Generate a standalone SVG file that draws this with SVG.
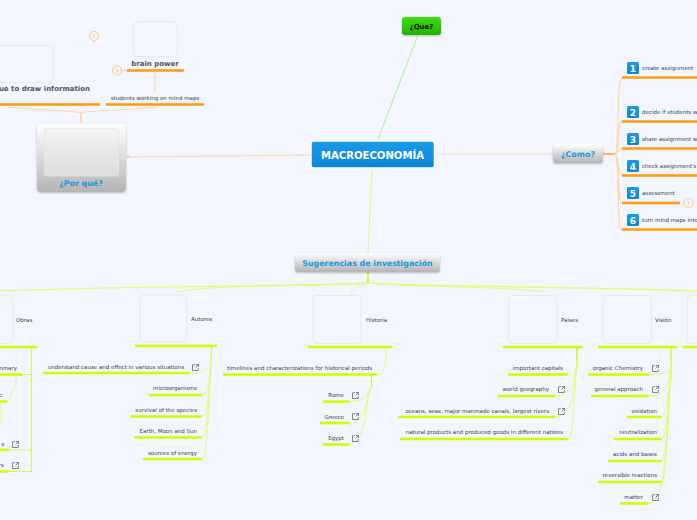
<svg xmlns="http://www.w3.org/2000/svg" width="697" height="520" viewBox="0 0 697 520">
<style>
text{font-family:"DejaVu Sans",sans-serif;fill:#3f3f46}
.s{font-size:5.5px}
.e{text-anchor:end}
.c{text-anchor:middle}
.b{font-weight:bold}
.t{fill:#2196dd;font-weight:bold}
.img{fill:#f5f7fe;stroke:#e6e8f2;stroke-width:1}
.og{stroke:#ff9b0a;stroke-width:2.6;fill:none}
.gb{stroke:#ccff00;stroke-width:2.6;fill:none}
.ol{stroke:#fdd9a8;stroke-width:1.2;fill:none}
.gl{stroke:#e2fb78;stroke-width:1;fill:none}
.gs{stroke:#ccf516;stroke-width:1;fill:none}
.num{fill:url(#blue)}
.nt{font-size:9px;font-weight:bold;fill:#fff;text-anchor:middle}
.cir{fill:#f5f7fe;stroke:#fdca8c;stroke-width:1.200}
.ct{font-size:5px;fill:#fdb765;text-anchor:middle}
.ic{stroke:#55555d;stroke-width:.7;fill:none}
</style>
<defs>
<linearGradient id="blue" x1="0" y1="0" x2="0" y2="1"><stop offset="0" stop-color="#1b9ae6"/><stop offset="1" stop-color="#0f86d8"/></linearGradient>
<linearGradient id="green" x1="0" y1="0" x2="0" y2="1"><stop offset="0" stop-color="#3fe00c"/><stop offset="1" stop-color="#20b000"/></linearGradient>
<linearGradient id="grey" x1="0" y1="0" x2="0" y2="1"><stop offset="0" stop-color="#ffffff"/><stop offset="1" stop-color="#b4b4b4"/></linearGradient>
<linearGradient id="inner" x1="0" y1="0" x2="0" y2="1"><stop offset="0" stop-color="#f4f4f4"/><stop offset="1" stop-color="#dcdcdc"/></linearGradient>
<filter id="sh" x="-20%" y="-20%" width="140%" height="150%"><feDropShadow dx="0" dy="1" stdDeviation="1.2" flood-color="#000" flood-opacity=".25"/></filter>
<symbol id="lnk" viewBox="0 0 7 7" overflow="visible"><path class="ic" d="M3 .8H.5V6.500H6.200V4M3.800 .5H6.500V3M6.500 .5L3.500 3.500"/></symbol>
</defs>
<rect width="697" height="520" fill="#f3f6fe"/>
<g id="connectors">
<path d="M311 155L127 157" class="ol"/>
<path d="M127 156.500H129" stroke="#ff9b4a" stroke-width="1"/>
<path d="M437 154L553 154" class="ol"/>
<path d="M378 139L418 35" stroke="#a8f28c" stroke-width="1" fill="none"/>
<path d="M372 170L368 253" stroke="#dcf880" stroke-width="1.100" fill="none"/>
<path d="M603 154H615" stroke="#ffb04a" stroke-width="1.800"/>
<path d="M615 154C620 150 616 78 622 78M615 154C620 152 617 121 622 121M615 154C619 153 618 148 622 148M615 154C619 155 618 175 622 175M615 154C620 156 617 203 622 203M615 154C620 158 616 230 622 230" class="ol"/>
<path d="M8 107C30 110 70 110 81 113C92 110 135 110 155 107" stroke="#fdd9a8" stroke-width="1" fill="none"/>
<path d="M81 113V123" stroke="#ffb04a" stroke-width=".8"/>
<path d="M155 72V92" class="ol"/>
<path d="M122 70.500H127" class="ol"/>
<path d="M94 41V43" class="ol"/>
<path d="M368 272V283" stroke="#ccf516" stroke-width="1.600"/>
<path d="M368 283C300 287 150 285 0 291" stroke="#e2fb78" stroke-width="1.400" fill="none"/>
<path d="M368 283C300 287 220 284 176 292" class="gl"/>
<path d="M368 283C360 285 352 288 350 295" class="gl"/>
<path d="M368 283C430 288 500 286 545 292" class="gl"/>
<path d="M368 283C430 287 550 286 697 291" stroke="#e2fb78" stroke-width="1.400" fill="none"/>
<path d="M31.500 348V472M22 374.500H31.500M9 450H31.500M9 471.500H31.500" stroke="#d8f84a" stroke-width="1" fill="none"/>
<path d="M7 401C13 401 10 388 16 388V374" class="gl"/>
<path d="M1 403V423" class="gl"/>
<path d="M211.500 347V352" class="gs"/>
<path d="M211.500 350C211 366 209 373 189 373M211.500 350C210 380 208 395 202 395M211.500 350C210 390 207 416 202 416.500M211.500 350C209 400 207 437 202 437.500M211.500 350C209 410 207 459 202 459" class="gl"/>
<path d="M386 348C386 362 386 374 377 374.500" class="gl"/>
<path d="M371.500 375V388" class="gs"/>
<path d="M371 388C367 392 368 401.500 349 401.500M371 388C366 395 368 423 349 423M371 388C365 400 367 444.500 349 444.500" class="gl"/>
<path d="M577 348V368" stroke="#ccf516" stroke-width="1.500"/>
<path d="M577 360C576 370 575 374.500 568 374.500M577 360C575 380 573 396 555 396M577 360C575 390 573 417 555 417M577 360C574 400 573 439 568 439" class="gl"/>
<path d="M671 348V380" stroke="#ccf516" stroke-width="1.200"/>
<path d="M671 365C670 372 668 374.500 649 374.500M671 365C669 380 668 396 649 396M671 365C669 390 666 417 662 417M671 365C669 400 666 439 662 439M671 365C668 410 666 461 662 461M671 365C668 420 666 482 662 482M671 365C668 430 666 503.500 649 503.500" class="gl"/>
</g>
<g id="center"><rect x="311" y="141" width="123.500" height="27" rx="2.500" fill="url(#blue)" stroke="#fff" stroke-width="1.500"/><text x="372.500" y="159" class="c b" font-size="10.100" style="fill:#fff">MACROECONOMÍA</text></g>
<g id="que"><rect x="402" y="17" width="39" height="18" rx="3" fill="url(#green)" filter="url(#sh)"/><text x="421.500" y="29" class="c b" font-size="7" style="fill:#111">¿Que?</text></g>
<g id="sugerencias"><rect x="295" y="253" width="145" height="19" rx="3" fill="url(#grey)" filter="url(#sh)"/><text x="367.500" y="265.500" class="c t" font-size="7.900">Sugerencias de investigación</text></g>
<g id="como"><rect x="553" y="144" width="50" height="19" rx="3" fill="url(#grey)" filter="url(#sh)"/><text x="578" y="156.500" class="c t" font-size="7.900">¿Como?</text></g>
<g id="porque"><rect x="37" y="124" width="89" height="68" rx="4" fill="url(#grey)" filter="url(#sh)"/><rect x="44.500" y="128.500" width="74" height="47.500" rx="2" fill="url(#inner)" stroke="#e6e6e6" stroke-width=".8"/><text x="81" y="186" class="c t" font-size="7.900">¿Por qué?</text></g>
<g id="draw"><rect x="-20" y="45.500" width="73" height="37" rx="4" class="img"/><text x="90" y="91" class="e b" font-size="7" style="fill:#555">ue to draw information</text><path d="M0 104.500H100" class="og"/></g>
<g id="brain"><rect x="133.500" y="21.500" width="44" height="35" rx="4" class="img"/><text x="155" y="66" class="c b" font-size="7" style="fill:#555">brain power</text><path d="M127 70.500H184" class="og"/><circle cx="117" cy="70.500" r="4.500" class="cir"/><text x="117" y="72.500" class="ct">3</text></g>
<g id="note"><circle cx="94" cy="36" r="4.500" class="cir"/><text x="94" y="38" class="ct">5</text></g>
<g id="students"><text x="155" y="100" class="c s">students working on mind maps</text><path d="M106 104.500H204" class="og"/></g>
<g id="c1"><rect x="627" y="62" width="12" height="12" rx="1.500" class="num"/><text x="633" y="71.500" class="nt">1</text><text x="642" y="70" class="s">create assignment</text><path d="M622 77.500H697" class="og"/></g>
<g id="c2"><rect x="627" y="106" width="12" height="12" rx="1.500" class="num"/><text x="633" y="115.500" class="nt">2</text><text x="642" y="114" class="s">decide if students w</text><path d="M622 121.500H697" class="og"/></g>
<g id="c3"><rect x="627" y="133" width="12" height="12" rx="1.500" class="num"/><text x="633" y="142.500" class="nt">3</text><text x="642" y="141" class="s">share assignment w</text><path d="M622 148.500H697" class="og"/></g>
<g id="c4"><rect x="627" y="160" width="12" height="12" rx="1.500" class="num"/><text x="633" y="169.500" class="nt">4</text><text x="642" y="168" class="s">check assignment's</text><path d="M622 175.500H697" class="og"/></g>
<g id="c5"><rect x="627" y="187" width="12" height="12" rx="1.500" class="num"/><text x="633" y="196.500" class="nt">5</text><text x="642" y="195" class="s">assessment</text><path d="M622 203H680" class="og"/><circle cx="688.500" cy="203" r="4.500" class="cir"/><text x="688.500" y="205" class="ct">2</text></g>
<g id="c6"><rect x="627" y="214" width="12" height="12" rx="1.500" class="num"/><text x="633" y="223.500" class="nt">6</text><text x="642" y="222" class="s">turn mind maps into</text><path d="M622 229.500H697" class="og"/></g>
<g id="obras"><rect x="-35" y="295.500" width="47.500" height="48" rx="4" class="img"/><text x="16" y="322" class="s">Obras</text><path d="M0 347H37" class="gb"/></g>
<g id="o1"><text x="17" y="370" class="s e">mmary</text><path d="M0 374.500H22" class="gb"/></g>
<g id="o2"><text x="2" y="397" class="s e">c</text><path d="M0 401.500H7" class="gb"/></g>
<g id="o3"><text x="4" y="446" class="s e">s</text><use href="#lnk" x="12" y="441" width="7" height="7"/><path d="M0 450H9" class="gb"/></g>
<g id="o4"><text x="4" y="467" class="s e">rs</text><use href="#lnk" x="12" y="462" width="7" height="7"/><path d="M0 471.500H9" class="gb"/></g>
<g id="autores"><rect x="140" y="295" width="46.500" height="47" rx="4" class="img"/><text x="191" y="321" class="s">Autores</text><path d="M135 346H217" class="gb"/></g>
<g id="a1"><text x="184" y="369" class="s e">understand cause and effect in various situations</text><use href="#lnk" x="192" y="364" width="7" height="7"/><path d="M43 373H189" class="gb"/></g>
<g id="a2"><text x="197" y="390" class="s e">microorganisms</text><path d="M149 395H202" class="gb"/></g>
<g id="a3"><text x="197" y="412" class="s e">survival of the species</text><path d="M131 416.500H202" class="gb"/></g>
<g id="a4"><text x="197" y="433" class="s e">Earth, Moon and Sun</text><path d="M134 437.500H202" class="gb"/></g>
<g id="a5"><text x="197" y="455" class="s e">sources of energy</text><path d="M143 459H202" class="gb"/></g>
<g id="historia"><rect x="313" y="295.500" width="48" height="48" rx="4" class="img"/><text x="366" y="322" class="s">Historia</text><path d="M308 347H392" class="gb"/></g>
<g id="h1"><text x="372" y="370" class="s e">timelines and characterizations for historical periods</text><path d="M223 374.500H377" class="gb"/></g>
<g id="h2"><text x="344" y="397" class="s e">Rome</text><use href="#lnk" x="352" y="392" width="7" height="7"/><path d="M323 401.500H349" class="gb"/></g>
<g id="h3"><text x="344" y="419" class="s e">Greece</text><use href="#lnk" x="352" y="413" width="7" height="7"/><path d="M320 423H349" class="gb"/></g>
<g id="h4"><text x="344" y="440" class="s e">Egypt</text><use href="#lnk" x="352" y="435" width="7" height="7"/><path d="M323 444.500H349" class="gb"/></g>
<g id="paises"><rect x="508.500" y="295.500" width="48" height="48" rx="4" class="img"/><text x="561" y="322" class="s">Países</text><path d="M503 347H583" class="gb"/></g>
<g id="p1"><text x="563" y="370" class="s e">important capitals</text><path d="M508 374.500H568" class="gb"/></g>
<g id="p2"><text x="549" y="391" class="s e">world geography</text><use href="#lnk" x="558" y="386" width="7" height="7"/><path d="M498 396H555" class="gb"/></g>
<g id="p3"><text x="549" y="413" class="s e">oceans, seas, major manmade canals,  largest rivers</text><use href="#lnk" x="558" y="408" width="7" height="7"/><path d="M398 417H555" class="gb"/></g>
<g id="p4"><text x="563" y="434" class="s e">natural products and produced goods in different nations</text><path d="M400 439H568" class="gb"/></g>
<g id="vision"><rect x="603.500" y="295.500" width="48" height="48" rx="4" class="img"/><text x="655" y="322" class="s">Visión</text><path d="M598 347H677" class="gb"/></g>
<g id="v0"><rect x="687.500" y="295.500" width="48" height="48" rx="4" class="img"/><path d="M683 347H697" class="gb"/></g>
<g id="v1"><text x="643" y="370" class="s e">organic Chemistry</text><use href="#lnk" x="652" y="365" width="7" height="7"/><path d="M588 374.500H649" class="gb"/></g>
<g id="v2"><text x="643" y="391" class="s e">general approach</text><use href="#lnk" x="652" y="386" width="7" height="7"/><path d="M591 396H649" class="gb"/></g>
<g id="v3"><text x="657" y="413" class="s e">oxidation</text><path d="M627 417H662" class="gb"/></g>
<g id="v4"><text x="657" y="434" class="s e">neutralization</text><path d="M614 439H662" class="gb"/></g>
<g id="v5"><text x="657" y="456" class="s e">acids and bases</text><path d="M608 461H662" class="gb"/></g>
<g id="v6"><text x="657" y="477" class="s e">reversible reactions</text><path d="M598 482H662" class="gb"/></g>
<g id="v7"><text x="643" y="499" class="s e">matter</text><use href="#lnk" x="652" y="494" width="7" height="7"/><path d="M620 503.500H649" class="gb"/></g>
</svg>
